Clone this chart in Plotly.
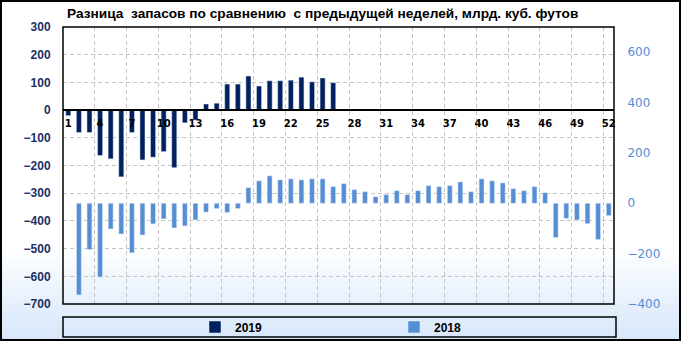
import base64
import plotly.graph_objects as go

# ---------------- data ----------------
weeks = list(range(1, 53))
tick_weeks = list(range(1, 53, 3))
grid_weeks = [w + 0.5 for w in range(3, 52, 3)]
v2019 = [-20, -81, -81, -164, -176, -241, -81, -180, -170, -150, -208, -46, -36,
         22, 25, 94, 94, 123, 87, 106, 106, 108, 119, 102, 116, 99]
v2018 = [None, -364, -184, -293, -102, -122, -197, -126, -82, -62, -98, -90, -66,
         -35, -21, -37, -21, 62, 89, 109, 93, 97, 93, 97, 97, 66,
         78, 54, 46, 26, 34, 50, 34, 50, 70, 66, 70, 85, 46, 97,
         89, 81, 58, 50, 66, 42, -136, -60, -66, -81, -144, -49]
left_range = [-700, 300]
right_range = [-400, 700]
right_ticks = [-400, -200, 0, 200, 400, 600]
title = "Разница\u00a0 запасов по сравнению\u00a0 с предыдущей неделей, млрд. куб. футов"

DARK = "#002060"
LIGHT = "#558ED5"
W, H = 681, 341
ML, MR, MT, MB = 63, 67, 27, 37
PW, PH = W - ML - MR, H - MT - MB

def px_x(p):
    return (p - ML) / PW

def px_y(p):
    return (H - MB - p) / PH

svg = ('<svg xmlns="http://www.w3.org/2000/svg" width="100" height="100" preserveAspectRatio="none">'
       '<defs><linearGradient id="g" x1="0" y1="0" x2="0" y2="1">'
       '<stop offset="0" stop-color="#ffffff"/><stop offset="0.72" stop-color="#ffffff"/>'
       '<stop offset="1" stop-color="#d6e6fa"/></linearGradient></defs>'
       '<rect width="100" height="100" fill="url(#g)"/></svg>')
bg_src = "data:image/svg+xml;base64," + base64.b64encode(svg.encode()).decode()

fig = go.Figure()
fig.add_trace(go.Bar(x=weeks[:len(v2019)], y=v2019, name="2019", marker_color=DARK,
                     width=0.48, yaxis="y"))
fig.add_trace(go.Bar(x=weeks, y=v2018, name="2018", marker_color=LIGHT,
                     width=0.46, yaxis="y2"))

zero_pos = (0 - left_range[0]) / (left_range[1] - left_range[0])

fig.update_layout(
    width=W, height=H,
    margin=dict(l=ML, r=MR, t=MT, b=MB, pad=0, autoexpand=False),
    paper_bgcolor="white",
    plot_bgcolor="rgba(0,0,0,0)",
    barmode="overlay",
    title=dict(text=title, x=67 / W, xanchor="left", xref="container",
               y=1 - 13 / H, yanchor="middle", yref="container",
               font=dict(family="Liberation Sans", size=13.7, color="black", weight="bold")),
    xaxis=dict(range=[0.5, 52.5], anchor="free", position=zero_pos,
               tickmode="array", tickvals=tick_weeks, ticktext=[str(t) for t in tick_weeks],
               showgrid=False, zeroline=False,
               showline=True, linecolor="black", linewidth=1.5,
               ticks="outside", ticklen=4, tickcolor="rgba(0,0,0,0)",
               tickfont=dict(family="DejaVu Sans", size=10, color="black", weight="bold"),
               minor=dict(tickmode="array", tickvals=grid_weeks, showgrid=True,
                          gridcolor="#c4c4c4", gridwidth=1, griddash="4px,3px", ticks="")),
    yaxis=dict(range=left_range, dtick=100, tick0=0, showgrid=True,
               gridcolor="#c4c4c4", gridwidth=1, griddash="4px,3px", zeroline=False,
               showline=False, ticks="outside", ticklen=9, tickcolor="rgba(0,0,0,0)",
               tickfont=dict(family="Liberation Sans", size=12, color="#1b2f63", weight="bold")),
    yaxis2=dict(range=right_range, overlaying="y", side="right", tickmode="array",
                tickvals=right_ticks, showgrid=False, zeroline=False, showline=False,
                ticks="outside", ticklen=10, tickcolor="rgba(0,0,0,0)",
                tickfont=dict(family="DejaVu Sans", size=12, color=LIGHT)),
    showlegend=True,
    legend=dict(orientation="h", x=px_x(195), xanchor="left", y=px_y(327), yanchor="middle",
                bgcolor="rgba(0,0,0,0)", borderwidth=0,
                entrywidth=154, entrywidthmode="pixels",
                font=dict(family="Liberation Sans", size=12, color="black", weight="bold")),
    images=[dict(source=bg_src, xref="paper", yref="paper", x=px_x(0), y=px_y(0),
                 sizex=px_x(W) - px_x(0), sizey=px_y(0) - px_y(H), sizing="stretch",
                 xanchor="left", yanchor="top", layer="below")],
    shapes=[
        dict(type="rect", xref="paper", yref="paper", x0=0, x1=1, y0=0, y1=1,
             line=dict(color="black", width=1.5), layer="above"),
        dict(type="rect", xref="paper", yref="paper", x0=px_x(63), x1=px_x(616),
             y0=px_y(337), y1=px_y(317), line=dict(color="black", width=1.5), layer="above"),
        dict(type="rect", xref="paper", yref="paper", x0=px_x(1), x1=px_x(680),
             y0=px_y(340), y1=px_y(1), line=dict(color="black", width=2), layer="above"),
    ],
)

fig.write_html("out.html")
